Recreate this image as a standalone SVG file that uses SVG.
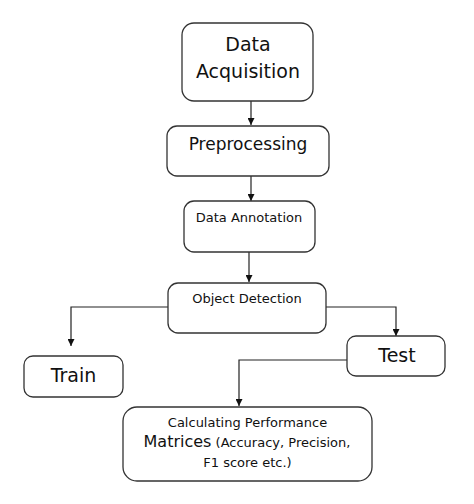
<svg xmlns="http://www.w3.org/2000/svg" width="474" height="504" viewBox="0 0 474 504">
<style>
.box{fill:#fff;stroke:#333;stroke-width:1.3}
.t{font-family:"DejaVu Sans",Verdana,sans-serif;fill:#111;text-anchor:middle}
.c{fill:none;stroke:#222;stroke-width:1.2}
</style>
<defs>
<marker id="ah" viewBox="0 0 10 10" refX="10" refY="5" markerWidth="7" markerHeight="7" markerUnits="userSpaceOnUse" orient="auto">
<path d="M0,0 L10,5 L0,10 z" fill="#111"/>
</marker>
</defs>
<rect width="474" height="504" fill="#fff"/>
<g id="connectors">
<path class="c" d="M251,101 V125" marker-end="url(#ah)"/>
<path class="c" d="M251,176 V201" marker-end="url(#ah)"/>
<path class="c" d="M249,252 V282" marker-end="url(#ah)"/>
<path class="c" d="M168,307 H71 V346" marker-end="url(#ah)"/>
<path class="c" d="M326,307 H396 V336" marker-end="url(#ah)"/>
<path class="c" d="M347,360 H239 V406" marker-end="url(#ah)"/>
</g>
<g id="data-acquisition">
<rect class="box" x="182" y="23" width="131" height="78" rx="12"/>
<text class="t" x="248" y="51" font-size="19">Data</text>
<text class="t" x="248" y="78" font-size="19">Acquisition</text>
</g>
<g id="preprocessing">
<rect class="box" x="167" y="126" width="162" height="50" rx="10"/>
<text class="t" x="248" y="150" font-size="17">Preprocessing</text>
</g>
<g id="data-annotation">
<rect class="box" x="184" y="201" width="131" height="51" rx="10"/>
<text class="t" x="249" y="222" font-size="13">Data Annotation</text>
</g>
<g id="object-detection">
<rect class="box" x="168" y="283" width="158" height="50" rx="10"/>
<text class="t" x="247" y="303" font-size="13">Object Detection</text>
</g>
<g id="train">
<rect class="box" x="24" y="356" width="99" height="41" rx="9"/>
<text class="t" x="73.5" y="382" font-size="19">Train</text>
</g>
<g id="test">
<rect class="box" x="347" y="336" width="98" height="40" rx="9"/>
<text class="t" x="397" y="362" font-size="19">Test</text>
</g>
<g id="performance">
<rect class="box" x="123" y="407" width="249" height="74" rx="14"/>
<text class="t" x="247.5" y="427" font-size="13">Calculating Performance</text>
<text class="t" x="247" y="447" font-size="13"><tspan font-size="16">Matrices</tspan> (Accuracy, Precision,</text>
<text class="t" x="247.5" y="467" font-size="13">F1 score etc.)</text>
</g>
</svg>
